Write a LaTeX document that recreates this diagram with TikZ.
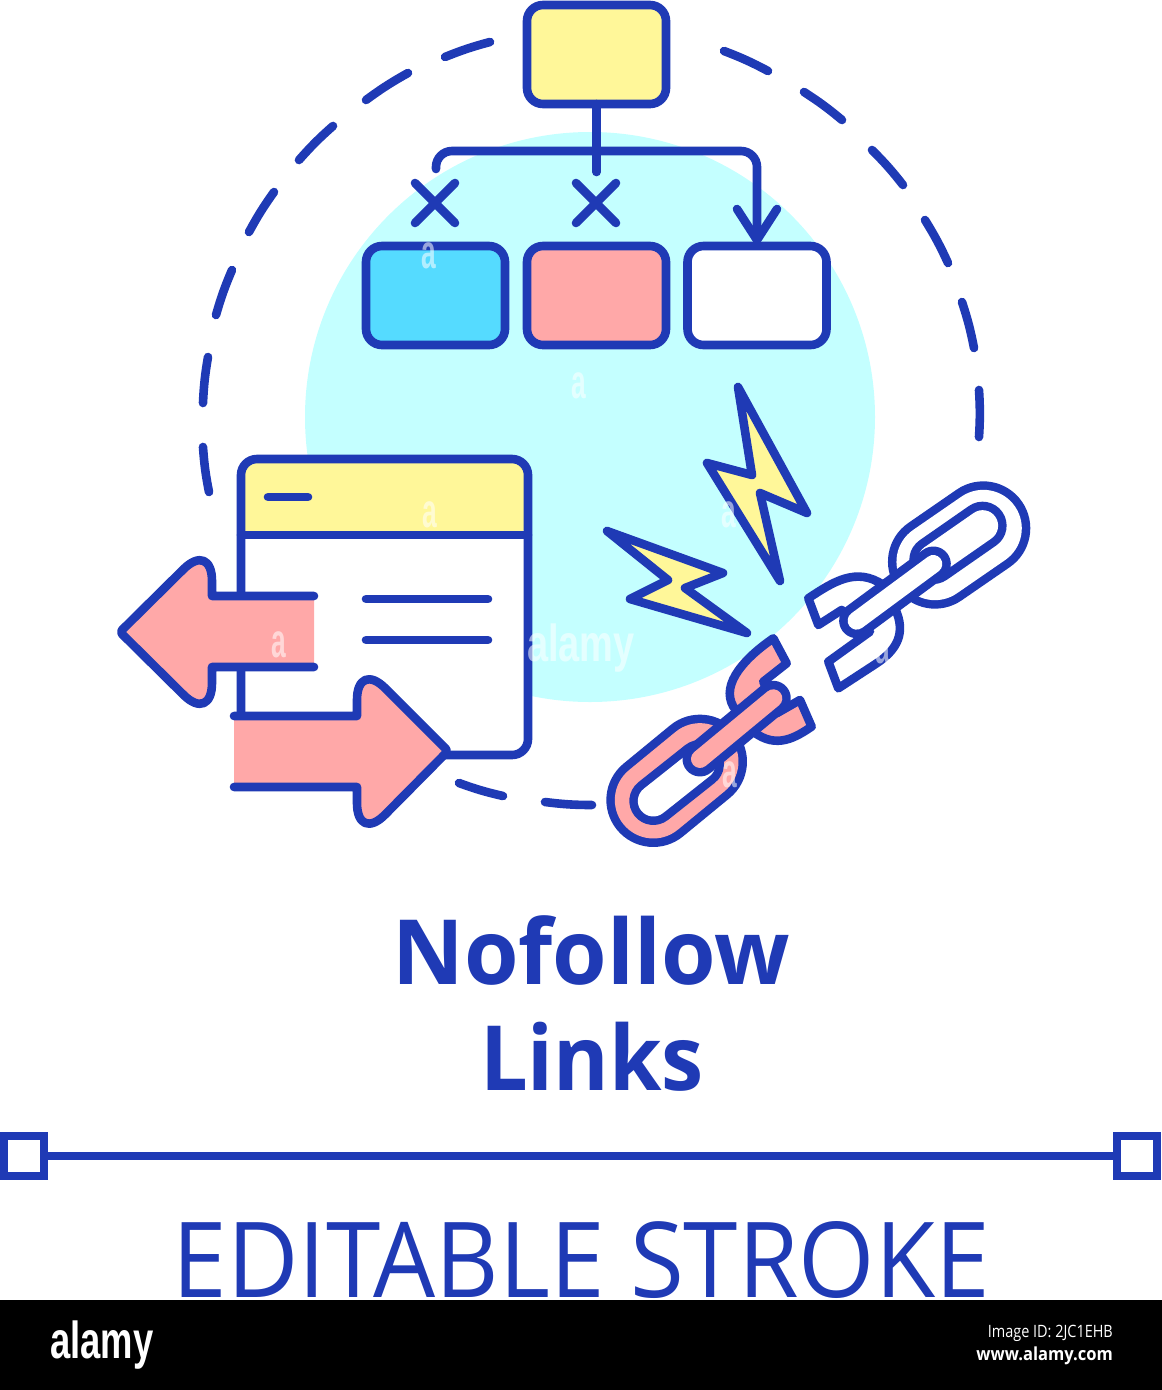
\documentclass[tikz,border=0pt]{standalone}
\usepackage{fontspec}
\usepackage{graphicx}
\setmainfont{Open Sans}
\newfontfamily\hfont{Liberation Sans}
\usetikzlibrary{calc}
\definecolor{ink}{HTML}{1F3AB5}
\definecolor{aqua}{HTML}{C4FFFF}
\definecolor{sun}{HTML}{FFF799}
\definecolor{rose}{HTML}{FFA8A8}
\definecolor{sky}{HTML}{55DBFF}
\tikzset{
  x=1pt,y=-1pt,
  ln/.style={draw=ink,line width=8.6pt,line cap=round,line join=round},
  boxn/.style={ln,rounded corners=16pt,minimum width=139pt,minimum height=99pt,inner sep=0pt,outer sep=0pt},
  wm/.style={text=white,text opacity=.55,font=\hfont\bfseries\fontsize{48}{48}\selectfont,inner sep=0pt},
  sq/.style={draw=ink,line width=8pt,fill=white,minimum size=40pt,inner sep=0pt,outer sep=0pt},
  big/.style={text=ink,font=\bfseries\fontsize{90}{90}\selectfont,xscale=.98,inner sep=0pt,anchor=base},
}
\begin{document}
\begin{tikzpicture}
\useasboundingbox (0,0) rectangle (1162,1390);
\fill[white] (0,0) rectangle (1162,1390);
\fill[aqua] (590,417) circle[radius=285];
% dashed ring
\foreach \a/\b/\c/\d in {
 203/403/208/357, 216/315/232/270, 249/232/274/192, 299/160/333/126, 366/100/408/73, 445/57/490/42,
 724/51/768/71, 804/92/842/120, 872/150/903/185, 925/220/948/263, 962/302/974/348, 979/390/979/437,
 592/805/545/802, 503/796/459/783, 209/492/203/447}
  \draw[ln] (\a,\b) to[bend left=3.5] (\c,\d);
% tree
\node[boxn,fill=sun] (root) at (596.5,54.5) {};
\node[boxn,fill=sky] (bluebox) at (435.5,295.5) {};
\node[boxn,fill=rose] (redbox) at (596.5,295.5) {};
\node[boxn,fill=white] (whitebox) at (757,295.5) {};
\coordinate (stemend) at (root.south |- 0,172);
\coordinate (left) at (436,169);
\coordinate (arrowtip) at ($(whitebox.north)+(0,-6)$);
\coordinate (arrowL) at (737,209);
\coordinate (arrowR) at (777,209);
\draw[ln] (root.south) -- (stemend);
\draw[ln,rounded corners=16pt] (left) -- (436,151) -- (757,151) -- (arrowtip);
\draw[ln] (arrowL) -- (arrowtip) -- (arrowR);
\foreach \c in {435,596} {
  \draw[ln] (\c-20,183) -- (\c+20,223);
  \draw[ln] (\c+20,183) -- (\c-20,223);
}
% window
\path[fill=white,rounded corners=16pt] (241,535) -- (241,459) -- (528,459) -- (528,755) -- (241,755) -- cycle;
\fill[sun,rounded corners=16pt] (241,535) -- (241,459) -- (528,459) -- (528,535) [sharp corners] -- cycle;
\draw[ln,rounded corners=16pt] (241,720) -- (241,459) -- (528,459) -- (528,755) -- (440,755);
\draw[ln] (241,535) -- (528,535);
\draw[ln] (268,497) -- (308,497);
\draw[ln] (366,599) -- (488,599);
\draw[ln] (366,640) -- (488,640);
% left arrow
\draw[ln,fill=rose] (314,596) -- (212,596) [rounded corners=40pt] -- (212,541) [rounded corners=3pt] -- (120,632) [rounded corners=40pt] -- (212,723) [sharp corners] -- (212,667) -- (314,667);
% right arrow
\draw[ln,fill=rose] (234,716) -- (357,716) [rounded corners=40pt] -- (357,660) [rounded corners=3pt] -- (448,751) [rounded corners=40pt] -- (357,843) [sharp corners] -- (357,787) -- (234,787);
% bolts
\draw[ln,fill=sun] (738,387) -- (807,513) -- (760,493) -- (780,581) -- (707,463) -- (752,475) -- cycle;
\draw[ln,fill=sun] (607,531) -- (723,573) -- (685,588) -- (747,633) -- (630,599) -- (668,580) -- cycle;
% chains (coordinates in 3x zoom units)
\begin{scope}[shift={(590,460)},x=0.3333pt,y=-0.3333pt]
 % upper right chain
 \draw[ink,line width=94pt,line cap=round] (1180,205) -- (1035,305);
 \draw[white,line width=77pt,line cap=round] (1180,205) -- (1035,305);
 \draw[ink,line width=48pt,line cap=round] (1178,197) -- (1030,300);
 \draw[white,line width=31pt,line cap=round] (1178,197) -- (1030,300);
 \draw[ln,fill=white] (655,415) .. controls (730,365) and (800,320) .. (880,375) -- (915,445) .. controls (950,520) and (920,570) .. (860,610) -- (745,685) -- (715,605) -- (840,515) -- (755,450) -- (685,495) -- cycle;
 \draw[ink,line width=35pt,line cap=round] (1030,312) -- (800,482);
 \draw[white,line width=18pt,line cap=round] (1030,312) -- (800,482);
 % lower left chain
 \draw[ink,line width=94pt,line cap=round] (190,1020) -- (330,905);
 \draw[rose,line width=77pt,line cap=round] (190,1020) -- (330,905);
 \draw[ink,line width=48pt,line cap=round] (190,1023) -- (330,912);
 \draw[white,line width=31pt,line cap=round] (190,1023) -- (330,912);
 \draw[ln,fill=rose] (550,535) .. controls (470,590) and (390,670) .. (430,740) -- (490,815) .. controls (560,870) and (620,830) .. (665,800) -- (630,720) -- (560,760) -- (520,665) -- (590,610) -- cycle;
 \draw[ink,line width=35pt,line cap=round] (330,897) -- (550,715);
 \draw[rose,line width=18pt,line cap=round] (330,897) -- (550,715);
\end{scope}
% titles
\node[big] (t1) at (591,984) {Nofollow};
\node[big,xscale=.96] (t2) at (592,1090) {Links};
% divider
\node[sq] (sl) at (24,1156) {};
\node[sq] (sr) at (1137,1156) {};
\draw[ink,line width=8pt] (sl.east) -- (sr.west);
\node[text=ink,inner sep=0pt,anchor=south] (es) at (581.5,1299) {\resizebox{817pt}{76pt}{EDITABLE STROKE}};
% watermark
\node[wm,font=\hfont\bfseries\fontsize{52}{52}\selectfont,xscale=.73] (w0) at (581,648) {alamy};
\foreach \i/\p/\q in {1/429/256,2/579/386,3/430/515,4/279/645,5/729/515,6/730/775,7/883/651}
  \node[wm,xscale=.55] (wa\i) at (\p,\q) {a};
% bottom bar
\fill[black] (0,1300) rectangle (1162,1390);
\node[text=white,font=\hfont\bfseries\fontsize{52}{52}\selectfont,xscale=.70,inner sep=0pt,anchor=base west] (lg) at (50,1358) {alamy};
\node[text=white,font=\fontsize{17}{17}\selectfont,xscale=.85,inner sep=0pt,anchor=base east] (id) at (1113,1337) {Image ID: 2JC1EHB};
\node[text=white,font=\bfseries\fontsize{18}{18}\selectfont,xscale=.92,inner sep=0pt,anchor=base east] (ww) at (1113,1360) {www.alamy.com};
\end{tikzpicture}
\end{document}
